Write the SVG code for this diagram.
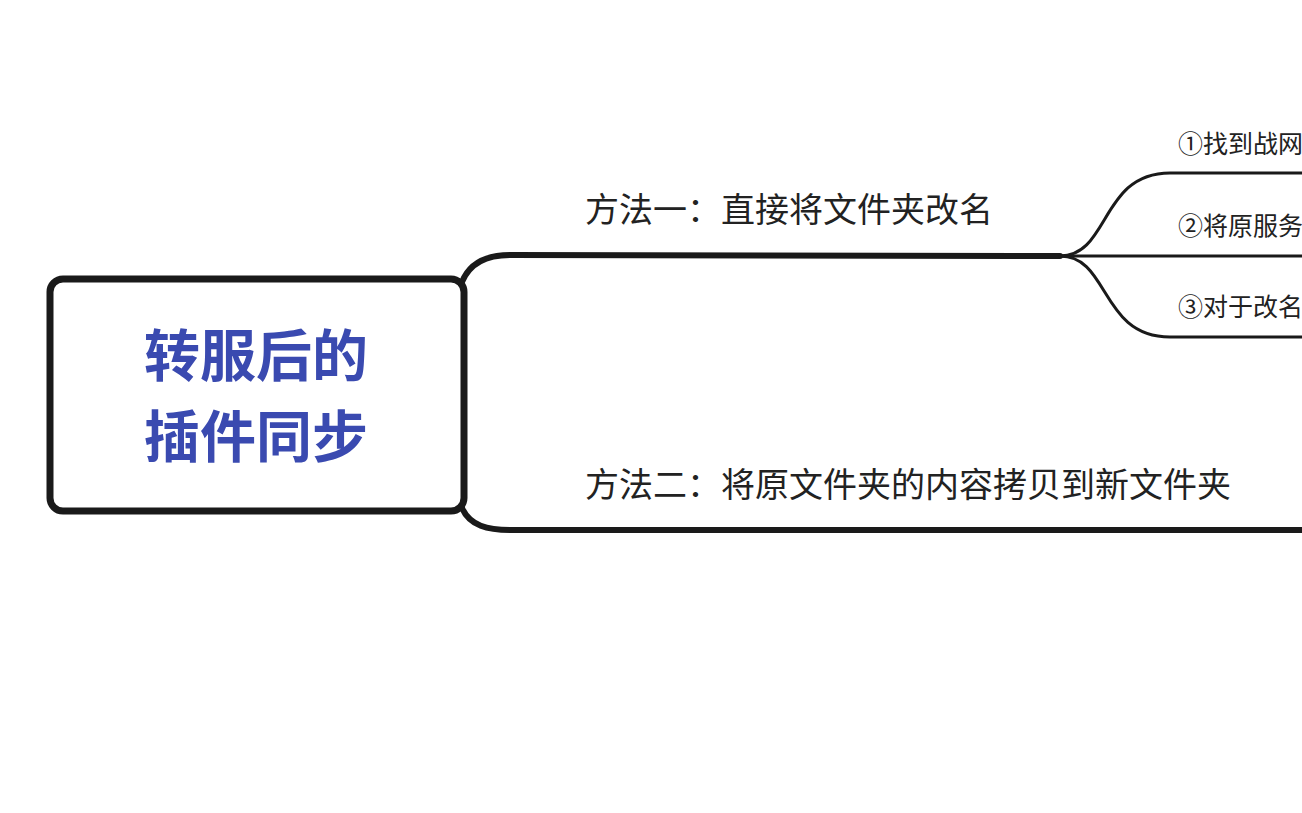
<svg xmlns="http://www.w3.org/2000/svg" width="1302" height="813" viewBox="0 0 1302 813">
<style>
.c{fill:none;stroke:#1a1a1a;stroke-linecap:round}
.t{font-family:"Noto Sans CJK SC",sans-serif;fill:#222}
</style>
<rect width="1302" height="813" fill="#fff"/>
<g id="connectors">
<path class="c" stroke-width="6" d="M462,282 C470,262 488,255 510,255 L1060,256"/>
<path class="c" stroke-width="6" d="M462,508 C470,526 488,530 510,530 L1310,530"/>
<path class="c" stroke-width="3" d="M1060,256 C1110,256 1100,173 1170,173 L1310,173"/>
<path class="c" stroke-width="3" d="M1060,256 L1310,256"/>
<path class="c" stroke-width="3" d="M1060,256 C1110,256 1100,337 1170,337 L1310,337"/>
</g>
<g id="root">
<rect x="50" y="279" width="414" height="232" rx="13" fill="#fff" stroke="#1a1a1a" stroke-width="7"/>
<text x="256" y="376" text-anchor="middle" font-family="'Noto Sans CJK SC',sans-serif" font-weight="bold" font-size="56" fill="#3a4ab0">转服后的</text>
<text x="256" y="457" text-anchor="middle" font-family="'Noto Sans CJK SC',sans-serif" font-weight="bold" font-size="56" fill="#3a4ab0">插件同步</text>
</g>
<g id="m1"><text class="t" x="585" y="222" font-size="34">方法一：直接将文件夹改名</text></g>
<g id="m2"><text class="t" x="585" y="497" font-size="34">方法二：将原文件夹的内容拷贝到新文件夹</text></g>
<g id="s1"><text class="t" x="1178" y="153" font-size="25">①找到战网</text></g>
<g id="s2"><text class="t" x="1178" y="235" font-size="25">②将原服务</text></g>
<g id="s3"><text class="t" x="1178" y="316" font-size="25">③对于改名</text></g>
</svg>
